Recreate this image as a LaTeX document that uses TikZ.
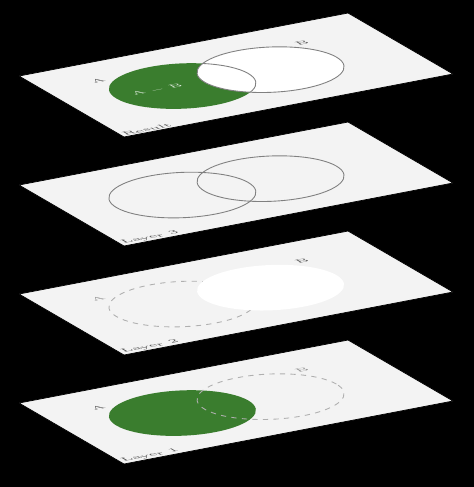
\documentclass[tikz,border=0pt]{standalone}
\definecolor{planegray}{RGB}{243,243,243}
\definecolor{setgreen}{RGB}{58,125,46}
\definecolor{setgray}{RGB}{128,128,128}
\definecolor{dashgray}{RGB}{175,175,175}
\definecolor{labelgray}{RGB}{80,80,80}
\tikzset{
  layerplane/.style={fill=planegray, draw=black, line width=0.4pt},
  setedge/.style={draw=setgray, line width=0.5pt},
  setdashed/.style={draw=dashgray, line width=0.5pt, dashed},
  setlabel/.style={text=labelgray, font=\fontsize{6}{7}\selectfont, transform shape, inner sep=1pt},
  layertilt/.style={cm={1.316,0.252,-0.656,0.381,(2.48,#1)}}
}
\begin{document}
\begin{tikzpicture}
  \fill[black] (0,0) rectangle (9.48,9.74);
  \useasboundingbox (0,0) rectangle (9.48,9.74);

  % Layer 1
  \begin{scope}[layertilt=0.46]
    \draw[layerplane] (0,0) rectangle (5,3.2);
    \fill[setgreen] (1.67,1.57) circle (1);
    \draw[setdashed] (3.0,1.55) circle (1);
    \node[setlabel] (labA1) at (0.8,2.4) {A};
    \node[setlabel, text=dashgray!80!black] (labB1) at (3.88,2.36) {B};
    \node[setlabel, anchor=south west] (lay1) at (0,0) {Layer 1};
  \end{scope}

  % Layer 2
  \begin{scope}[layertilt=2.64]
    \draw[layerplane] (0,0) rectangle (5,3.2);
    \draw[setdashed] (1.67,1.57) circle (1);
    \fill[white] (3.0,1.55) circle (1);
    \node[setlabel, text=dashgray!80!black] (labA2) at (0.8,2.4) {A};
    \node[setlabel] (labB2) at (3.88,2.36) {B};
    \node[setlabel, anchor=south west] (lay2) at (0,0) {Layer 2};
  \end{scope}

  % Layer 3
  \begin{scope}[layertilt=4.82]
    \draw[layerplane] (0,0) rectangle (5,3.2);
    \draw[setedge] (1.67,1.57) circle (1);
    \draw[setedge] (3.0,1.55) circle (1);
    \node[setlabel, anchor=south west] (lay3) at (0,0) {Layer 3};
  \end{scope}

  % Result
  \begin{scope}[layertilt=7.0]
    \draw[layerplane] (0,0) rectangle (5,3.2);
    \fill[setgreen] (1.67,1.57) circle (1);
    \fill[white] (3.0,1.55) circle (1);
    \draw[setedge] (3.0,1.55) circle (1);
    \begin{scope}
      \clip (3.0,1.55) circle (1);
      \draw[setedge] (1.67,1.57) circle (1);
    \end{scope}
    \node[setlabel] (labA) at (0.8,2.4) {A};
    \node[setlabel] (labB) at (3.88,2.36) {B};
    \node[setlabel, text=setgreen!15!white] (labAB) at (1.3,1.6) {A $-$ B};
    \node[setlabel, anchor=south west] (res) at (0,0) {Result};
  \end{scope}
\end{tikzpicture}
\end{document}
